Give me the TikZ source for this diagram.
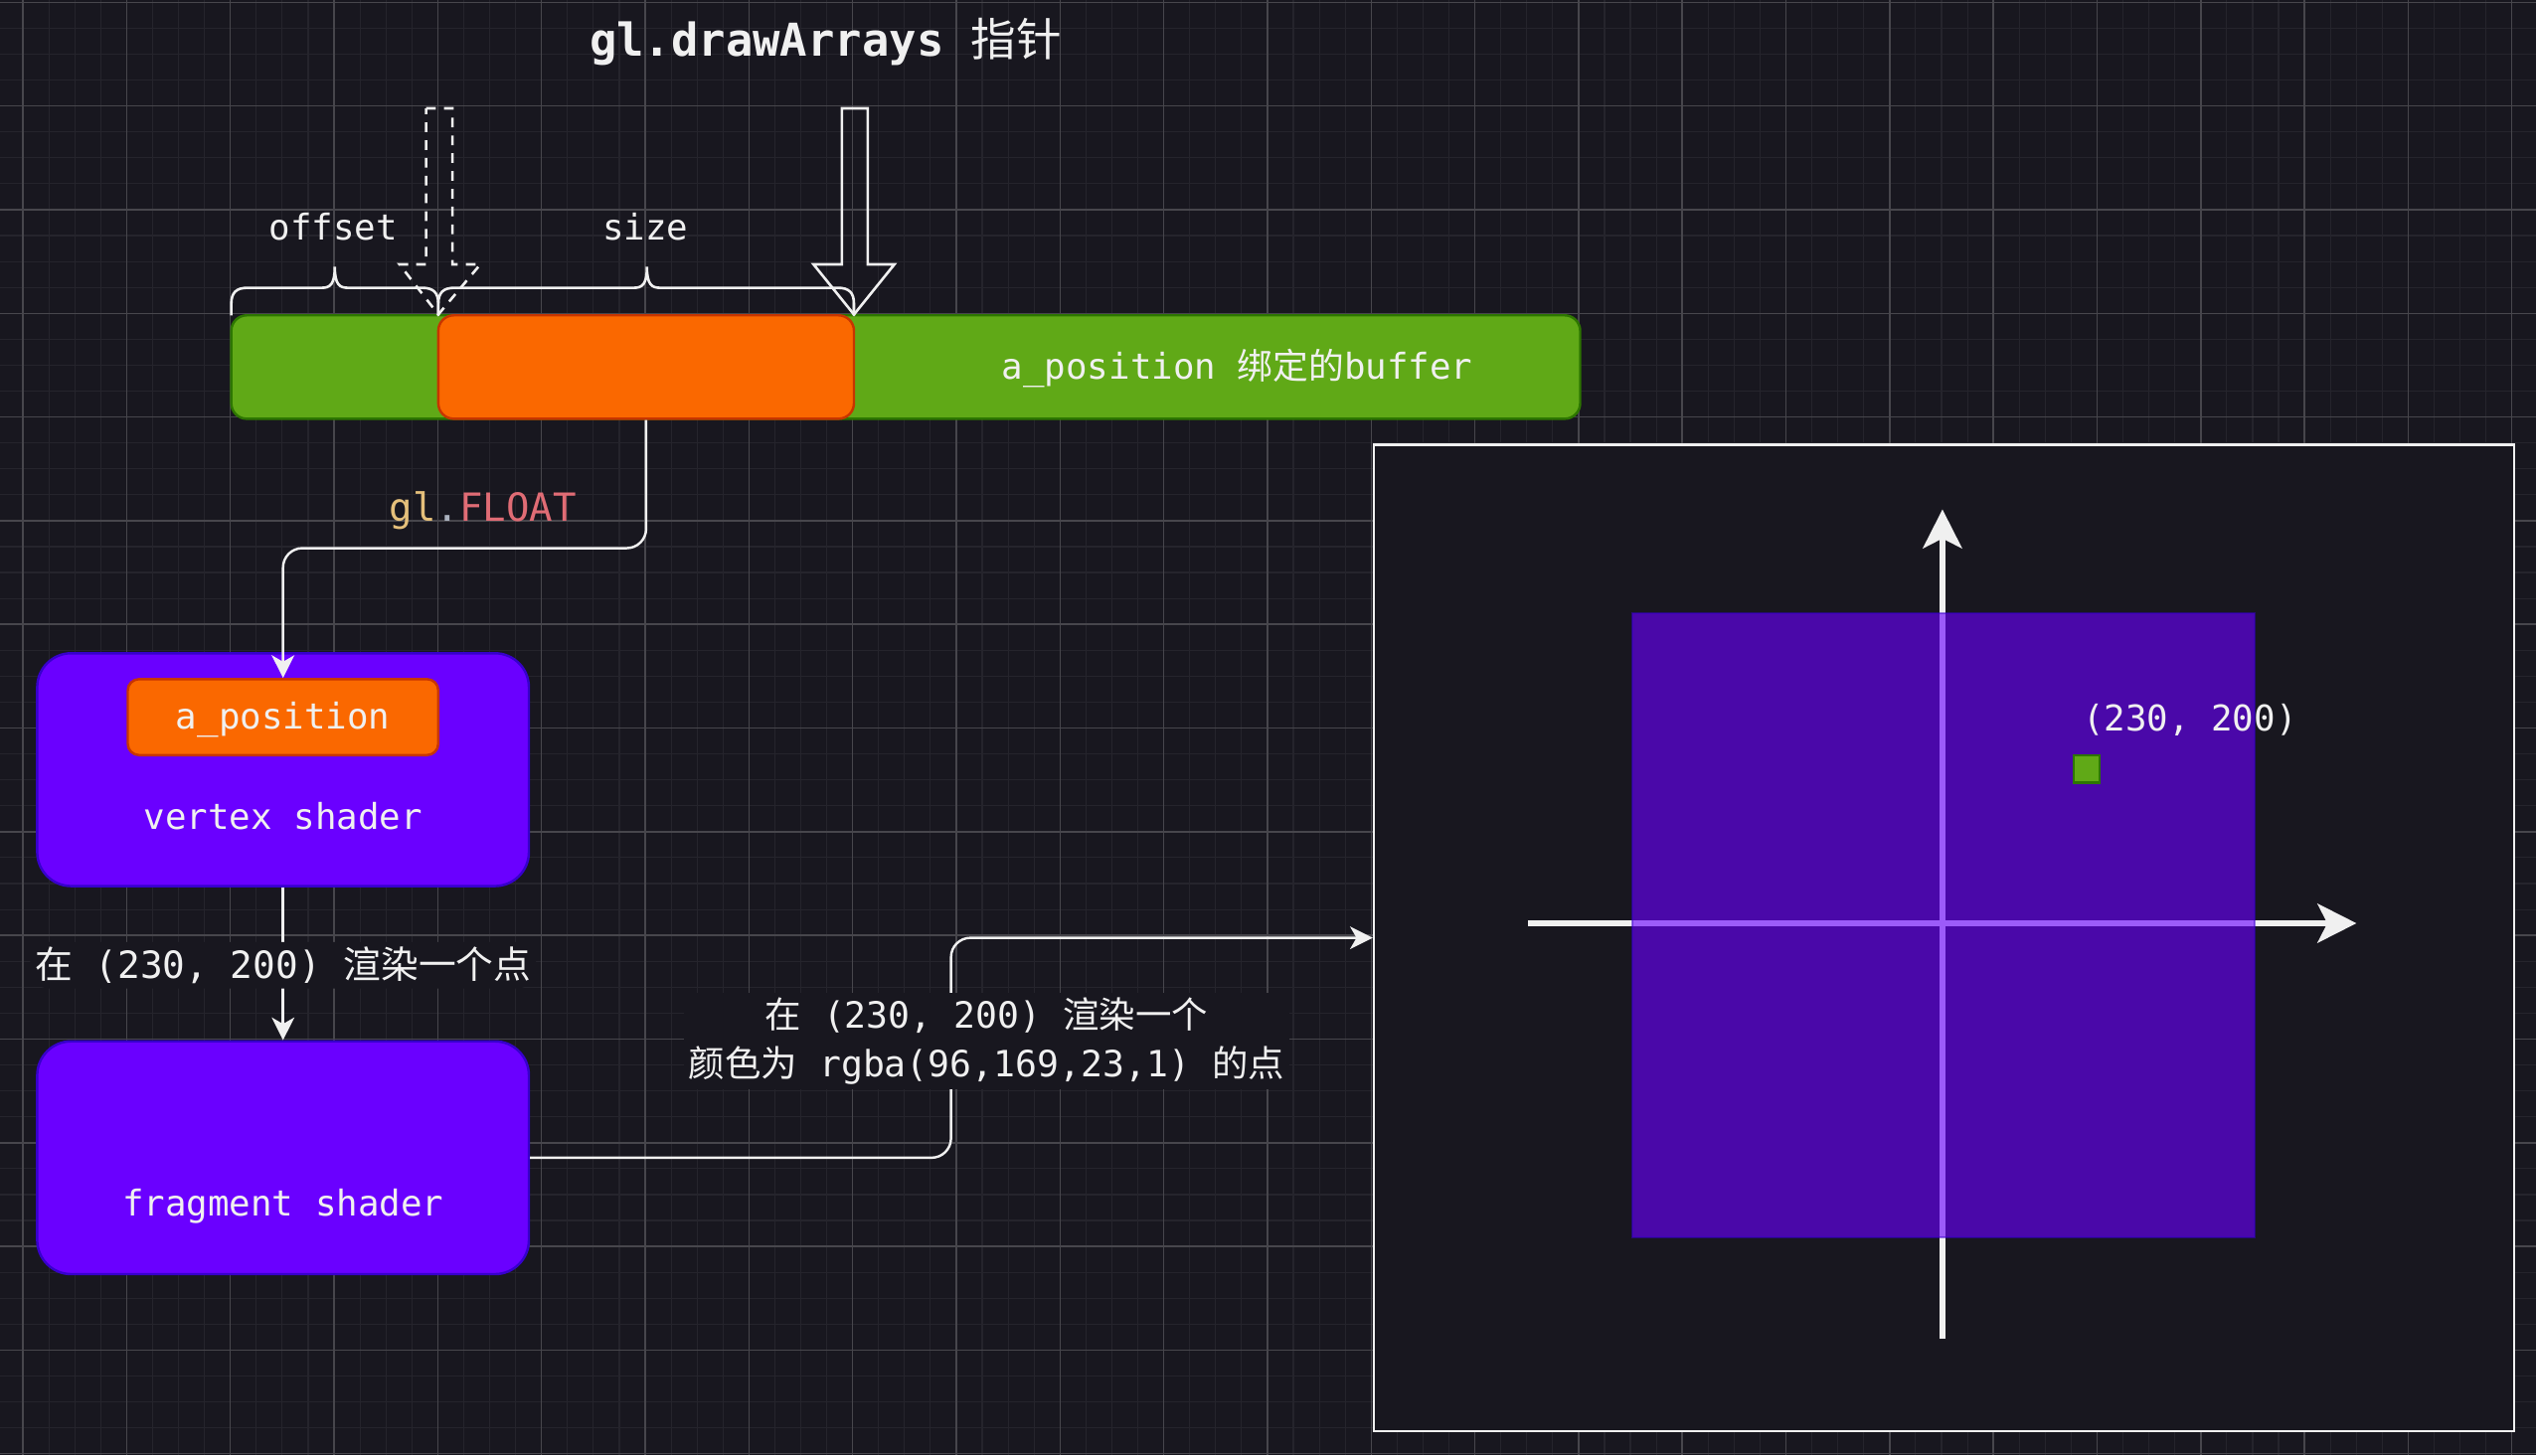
\documentclass[tikz,border=0pt]{standalone}
\usepackage{fontspec}
\setmainfont{DejaVu Sans Mono}
\newfontfamily\cjk{Noto Sans CJK SC}
\usetikzlibrary{arrows.meta}
\definecolor{bg}{HTML}{18171F}
\definecolor{gminorc}{HTML}{25242C}
\definecolor{gmajorc}{HTML}{47464C}
\definecolor{fg}{HTML}{F0F0F0}
\definecolor{grfill}{HTML}{60A917}
\definecolor{grdraw}{HTML}{2D7600}
\definecolor{orfill}{HTML}{FA6800}
\definecolor{ordraw}{HTML}{C73500}
\definecolor{pufill}{HTML}{6A00FF}
\definecolor{pudraw}{HTML}{3700CC}
\definecolor{glc}{HTML}{E5C07B}
\definecolor{dotc}{HTML}{ABB2BF}
\definecolor{floatc}{HTML}{E06C75}
\tikzset{
  gminor/.style={draw=gminorc, line width=0.35pt},
  gmajor/.style={draw=gmajorc, line width=0.45pt},
  txt/.style={text=fg, inner sep=0pt, font=\fontsize{11}{13}\selectfont},
  greenbox/.style={draw=grdraw, fill=grfill, line width=0.75pt, rounded corners=4.8pt, inner sep=0pt},
  orangebox/.style={draw=ordraw, fill=orfill, line width=0.75pt, rounded corners=4.8pt, inner sep=0pt},
  purplebox/.style={draw=pudraw, fill=pufill, line width=0.75pt, rounded corners=10.5pt, inner sep=0pt, minimum width=152pt, minimum height=72pt},
  brace/.style={draw=fg, line width=0.8pt},
  blockarrow/.style={draw=fg, line width=0.8pt, line join=miter},
  conn/.style={draw=fg, line width=0.75pt, rounded corners=6pt, -{Stealth[length=7pt,width=7pt,inset=2pt]}},
  axis/.style={draw=fg, line width=2pt, -{Stealth[length=12pt,width=12pt,inset=3pt]}},
  lbl/.style={txt, fill=bg, inner sep=1.5pt},
}
\begin{document}
\begin{tikzpicture}[x=0.5pt,y=-0.5pt]
\useasboundingbox (0,0) rectangle (1568,900);
\fill[bg] (0,0) rectangle (1568,900);
% grid
\foreach \i in {0,...,97} \draw[gminor] ({14.2+\i*16.03},0) -- ++(0,900);
\foreach \j in {0,...,56} \draw[gminor] (0,{1.4+\j*16.03}) -- ++(1568,0);
\foreach \i in {0,...,24} \draw[gmajor] ({14.2+\i*64.12},0) -- ++(0,900);
\foreach \j in {0,...,14} \draw[gmajor] (0,{1.4+\j*64.12}) -- ++(1568,0);

% canvas area
\node[draw=fg, fill=bg, line width=0.8pt, minimum width=352.5pt, minimum height=305pt, inner sep=0pt] (canvas) at (1202,580) {};
\coordinate (xl) at (945,571);
\coordinate (xr) at (1457,571);
\coordinate (yb) at (1201,828);
\coordinate (yt) at (1201,315);
\draw[axis] (xl) -- (xr);
\draw[axis] (yb) -- (yt);
\fill[pufill, fill opacity=0.62] (1009,379) rectangle (1394,765);
\draw[pudraw, draw opacity=0.5, line width=0.6pt] (1009,379) rectangle (1394,765);
\node[draw=grdraw, fill=grfill, line width=0.7pt, minimum width=8pt, minimum height=8.5pt, inner sep=0pt] (pt) at (1290,475.5) {};
\node[txt] (ptlbl) at (1354,445) {(230, 200)};

% title
\node[txt, font=\fontsize{14}{16}\selectfont] (title) at (510.5,26) {\textbf{gl.drawArrays} {\cjk 指针}};

% buffer bar
\node[greenbox, minimum width=417pt, minimum height=32pt] (gbar) at (560,227) {};
\node[orangebox, minimum width=128.5pt, minimum height=32pt] (obar) at (399.5,227) {};
\node[txt] (buflbl) at (765,228) {a\_position {\cjk 绑定的}buffer};

% braces
\draw[brace] (143,195) -- (143,188) .. controls (143,181) and (146,178) .. (153,178)
  -- (199,178) .. controls (204,178) and (207,176) .. (207,165)
  .. controls (207,176) and (210,178) .. (215,178) -- (261,178)
  .. controls (268,178) and (271,181) .. (271,188) -- (271,195);
\draw[brace] (271,195) -- (271,188) .. controls (271,181) and (274,178) .. (281,178)
  -- (392,178) .. controls (397,178) and (400,176) .. (400,165)
  .. controls (400,176) and (403,178) .. (408,178) -- (518,178)
  .. controls (525,178) and (528,181) .. (528,188) -- (528,195);
\node[txt] (offlbl) at (206,140) {offset};
\node[txt] (sizelbl) at (399,140) {size};

% block arrows
\draw[blockarrow, dash pattern=on 3pt off 2.5pt] (263.5,67) -- (279.7,67) -- (279.7,163.5) -- (297,163.5) -- (271,194.5) -- (247,163.5) -- (263.5,163.5) -- cycle;
\draw[blockarrow] (520.5,67) -- (536.5,67) -- (536.5,163.5) -- (553,163.5) -- (528,194.5) -- (503,163.5) -- (520.5,163.5) -- cycle;

% shaders
\node[purplebox] (vs) at (175,476) {};
\node[orangebox, rounded corners=3.5pt, minimum width=96pt, minimum height=23.5pt] (apos) at (175,443.5) {};
\node[txt] (aposlbl) at (175,445) {a\_position};
\node[txt] (vslbl) at (175,505) {vertex shader};
\node[purplebox] (fs) at (175,716) {};
\node[txt] (fslbl) at (175,746) {fragment shader};

% connectors
\draw[conn] (obar.south) -- (399.5,339) -- (175,339) -- (apos.north);
\node[txt, font=\fontsize{12}{14}\selectfont] (floatlbl) at (298.5,316) {\textcolor{glc}{gl}\textcolor{dotc}{.}\textcolor{floatc}{FLOAT}};
\draw[conn] (vs.south) -- (fs.north) node[lbl, pos=0.51, font=\fontsize{11.6}{13.6}\selectfont] (lbl1) {{\cjk 在} (230, 200) {\cjk 渲染一个点}};
\draw[conn] (fs.east) -- (588,716) -- (588,580) -- (canvas.west);
\node[lbl, align=center, font=\fontsize{11.2}{15}\selectfont] (lbl2) at (610,644) {{\cjk 在} (230, 200) {\cjk 渲染一个}\\{\cjk 颜色为} rgba(96,169,23,1) {\cjk 的点}};
\end{tikzpicture}
\end{document}
